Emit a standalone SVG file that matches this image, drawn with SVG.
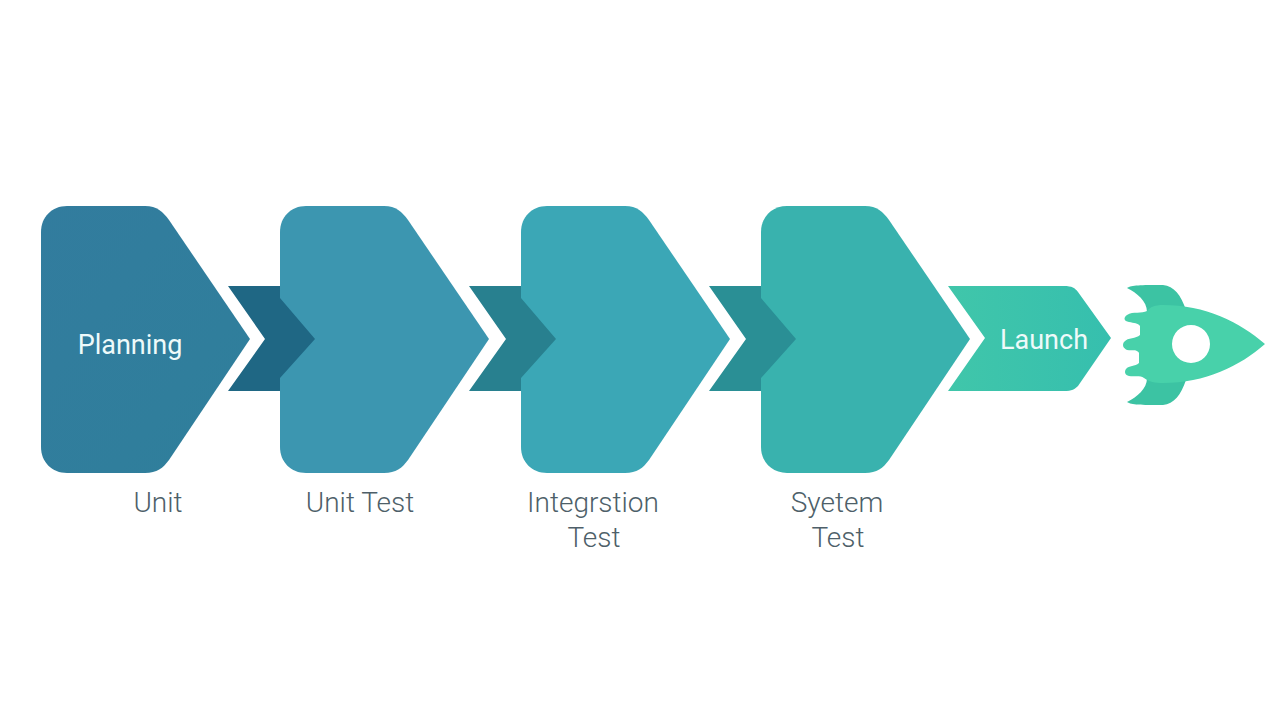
<svg xmlns="http://www.w3.org/2000/svg" width="1280" height="720" viewBox="0 0 1280 720">
<style>
.in{font-family:Roboto,"Liberation Sans",sans-serif;font-size:27px;fill:#eefafa;text-anchor:middle}
.lb{font-family:Roboto,"Liberation Sans",sans-serif;font-size:28px;font-weight:300;fill:#4e5f69;text-anchor:middle}
</style>
<defs>
<path id="chev" d="M26,0H104C116,0 122,6 128,14L209,133L128,254C122,262 116,267 104,267H26C11,267 0,256 0,241V26C0,11 11,0 26,0Z"/>
<path id="link" d="M0,0H52V12L87,53L52,92V105H0L37,53Z"/>
<linearGradient id="g1" x1="0" y1="0" x2="1" y2="1"><stop offset="0" stop-color="#327c9e"/><stop offset="1" stop-color="#2f7f9b"/></linearGradient>
<linearGradient id="g5" x1="0" y1="0" x2="1" y2="0"><stop offset="0" stop-color="#40c6aa"/><stop offset="1" stop-color="#36bfae"/></linearGradient>
</defs>
<rect width="1280" height="720" fill="#fff"/>
<g id="node-planning"><use href="#chev" x="41" y="206" fill="url(#g1)"/><text class="in" x="130" y="354">Planning</text><text class="lb" x="158" y="512">Unit</text></g>
<g id="node-unit-test"><use href="#chev" x="280" y="206" fill="#3c96b0"/><text class="lb" x="360" y="512">Unit Test</text></g>
<g id="node-integration-test"><use href="#chev" x="521" y="206" fill="#3ba7b6"/><text class="lb" x="593" y="512">Integrstion</text><text class="lb" x="594" y="547">Test</text></g>
<g id="node-system-test"><use href="#chev" x="761" y="206" fill="#39b2ae"/><text class="lb" x="837" y="512">Syetem</text><text class="lb" x="838" y="547">Test</text></g>
<g id="connectors">
<use href="#link" x="228" y="286" fill="#1f6784"/>
<use href="#link" x="469" y="286" fill="#28808f"/>
<use href="#link" x="709" y="286" fill="#2a8f95"/>
</g>
<g id="node-launch"><path d="M948,286H1064C1072,286 1075,288 1078,292L1111,338L1078,386C1075,389 1072,391 1064,391H948L985,338Z" fill="url(#g5)"/><text class="in" x="1044" y="349">Launch</text></g>
<g id="rocket">
<path d="M1127,288C1132,285 1140,285 1163,285C1174,286 1181,295 1186,310L1147,312C1147,301 1137,293 1127,288Z" fill="#3cc3a3"/>
<path d="M1127,402C1132,405 1140,405 1163,405C1174,404 1181,395 1186,380L1147,378C1147,389 1137,397 1127,402Z" fill="#3cc3a3"/>
<path fill-rule="evenodd" d="M1265,344C1240,322 1205,305 1163,305C1155,305 1150,307 1147,311C1142,314 1133,311 1127,315C1123,318 1124,321 1129,322C1134,323 1138,323 1140,326V335C1136,339 1128,337 1124,342C1122,345 1123,348 1127,350C1131,351 1137,349 1139,353V363C1135,367 1129,365 1126,369C1124,372 1125,375 1129,376C1134,377 1140,375 1144,378C1149,382 1155,383 1163,383C1205,383 1240,366 1265,344ZM1191,325A19,19 0 1 1 1191,363A19,19 0 1 1 1191,325Z" fill="#48d1aa"/>
</g>
</svg>
